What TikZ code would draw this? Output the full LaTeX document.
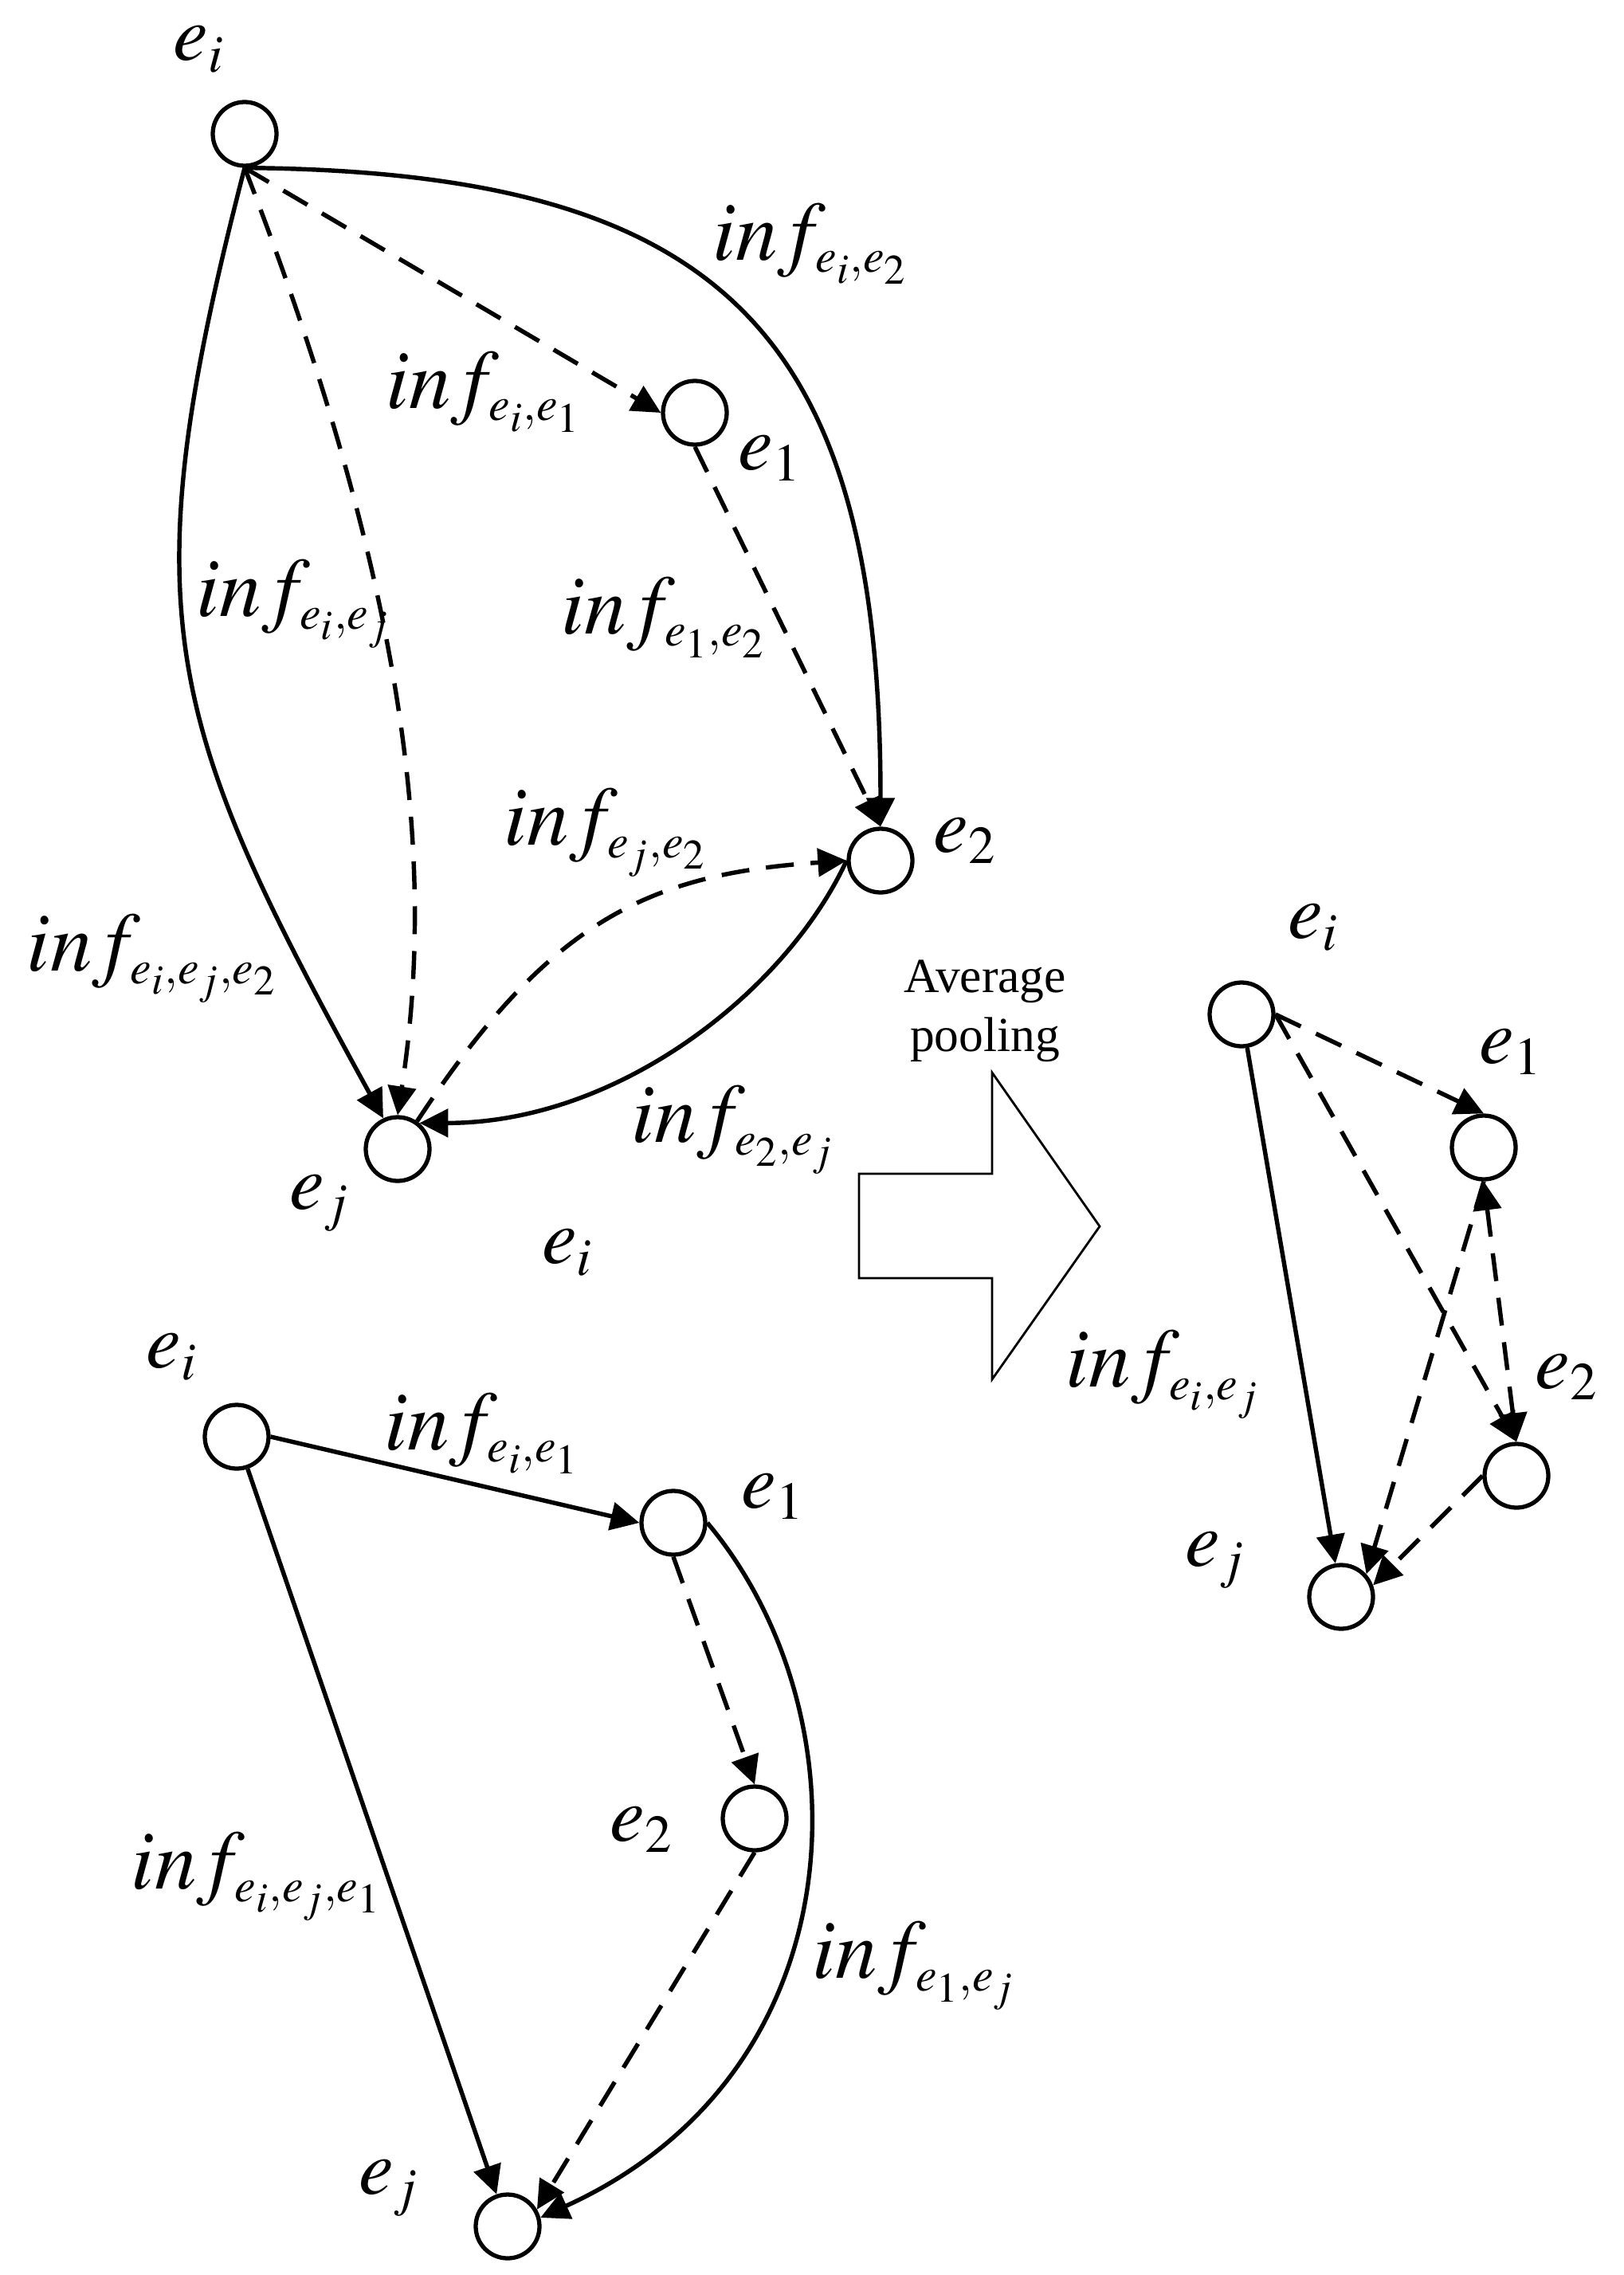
\documentclass[tikz,border=0pt]{standalone}
\usepackage{mathptmx}
\usepackage{fontspec}
\setmainfont{Liberation Serif}
\usetikzlibrary{arrows.meta}
\DeclareMathSizes{30}{30}{17}{15}
\DeclareMathSizes{28}{28}{19}{14}
\tikzset{
  entity/.style={draw,circle,minimum size=0.8cm,inner sep=0pt,line width=1.5pt},
  elbl/.style={font=\fontsize{28}{34}\selectfont,inner sep=0pt},
  inflbl/.style={font=\fontsize{30}{36}\selectfont,inner sep=0pt},
  link/.style={line width=1.55pt},
  dlink/.style={line width=1.55pt,dash pattern=on 10pt off 6pt}
}
\begin{document}
\begin{tikzpicture}[>={Triangle[length=3.6mm,width=3.5mm]}]
  \useasboundingbox (0,0) rectangle (20.37,-28.55);
  % first path
  \node[entity] (ai) at (3.07,-1.68) {};
  \node[entity] (a1) at (8.72,-5.18) {};
  \node[entity] (a2) at (11.05,-10.80) {};
  \node[entity] (aj) at (4.99,-14.42) {};
  \node[elbl] (lai) at (2.50,-0.62) {$e_i$};
  \node[elbl] (la1) at (9.66,-5.75) {$e_1$};
  \node[elbl] (la2) at (12.11,-10.55) {$e_2$};
  \node[elbl] (laj) at (4.01,-15.10) {$e_j$};
  \node[elbl] (stray) at (7.12,-15.72) {$e_i$};
  \draw[link,->] (ai.south) .. controls +(6.0,-0.05) and +(0,6.2) .. (a2.north);
  \draw[dlink,->] (ai.south) -- (a1.west);
  \draw[link,->] (ai.south) .. controls +(-1.45,-5.6) and +(-2.75,5.0) .. (aj.115);
  \draw[dlink,->] (ai.south) .. controls +(2.13,-5.5) and +(0.46,3.0) .. (aj.north);
  \draw[dlink,->] (a1.south) -- (a2.north);
  \draw[dlink,->] (aj.55) .. controls +(1.65,2.51) and +(-2.5,-0.17) .. (a2.west);
  \draw[link,->] (a2.west) .. controls +(-0.76,-1.64) and +(2.5,0) .. (aj.50);
  \node[inflbl] (ia2) at (10.17,-3.06) {$inf_{e_i,e_2}$};
  \node[inflbl] (ia1) at (6.07,-4.92) {$inf_{e_i,e_1}$};
  \node[inflbl] (iaj) at (3.68,-7.58) {$inf_{e_i,e_j}$};
  \node[inflbl] (i12) at (8.33,-7.75) {$inf_{e_1,e_2}$};
  \node[inflbl] (ij2) at (7.60,-10.45) {$inf_{e_j,e_2}$};
  \node[inflbl] (ij2a) at (1.91,-12.03) {$inf_{e_i,e_j,e_2}$};
  \node[inflbl] (i2j) at (9.20,-14.18) {$inf_{e_2,e_j}$};
  % pooling arrow
  \draw[line width=0.8pt] (10.78,-14.73) -- (12.45,-14.73) -- (12.45,-13.46) -- (13.80,-15.39)
    -- (12.45,-17.31) -- (12.45,-16.04) -- (10.78,-16.04) -- cycle;
  \node[align=center,font=\fontsize{17.5}{21}\selectfont,inner sep=0pt] (pool) at (12.36,-12.69) {Average\\pooling};
  % pooled
  \node[entity] (ci) at (15.58,-12.73) {};
  \node[entity] (c1) at (18.62,-14.40) {};
  \node[entity] (c2) at (19.03,-18.52) {};
  \node[entity] (cj) at (16.83,-20.04) {};
  \node[elbl] (lci) at (16.48,-11.64) {$e_i$};
  \node[elbl] (lc1) at (18.96,-13.20) {$e_1$};
  \node[elbl] (lc2) at (19.66,-17.28) {$e_2$};
  \node[elbl] (lcj) at (15.25,-19.58) {$e_j$};
  \node[inflbl] (icj) at (14.59,-17.25) {$inf_{e_i,e_j}$};
  \draw[link,->] (ci) -- (cj);
  \draw[dlink,->] (ci.east) -- (c1.north);
  \draw[dlink,->] (ci.east) -- (c2.north);
  \draw[dlink,<->] (c1.south) -- (c2.north);
  \draw[dlink,->] (c1.south) -- (cj.42);
  \draw[dlink,->] (c2.west) -- (cj.20);
  % second path
  \node[entity] (bi) at (2.97,-18.03) {};
  \node[entity] (b1) at (8.45,-19.11) {};
  \node[entity] (b2) at (9.47,-22.82) {};
  \node[entity] (bj) at (6.37,-27.94) {};
  \node[elbl] (lbi) at (2.16,-17.03) {$e_i$};
  \node[elbl] (lb1) at (9.70,-18.78) {$e_1$};
  \node[elbl] (lb2) at (8.05,-22.96) {$e_2$};
  \node[elbl] (lbj) at (4.88,-27.46) {$e_j$};
  \draw[link,->] (bi.east) -- (b1.west);
  \draw[link,->] (bi) -- (bj);
  \draw[dlink,->] (b1.south) -- (b2.north);
  \draw[dlink,->] (b2.south) -- (bj.30);
  \draw[link,->] (b1.east) .. controls +(2.01,-2.39) and +(4.04,1.84) .. (bj.15);
  \node[inflbl] (ib1) at (6.05,-17.99) {$inf_{e_i,e_1}$};
  \node[inflbl] (ibj) at (3.22,-23.55) {$inf_{e_i,e_j,e_1}$};
  \node[inflbl] (i1j) at (11.47,-24.67) {$inf_{e_1,e_j}$};
\end{tikzpicture}
\end{document}
